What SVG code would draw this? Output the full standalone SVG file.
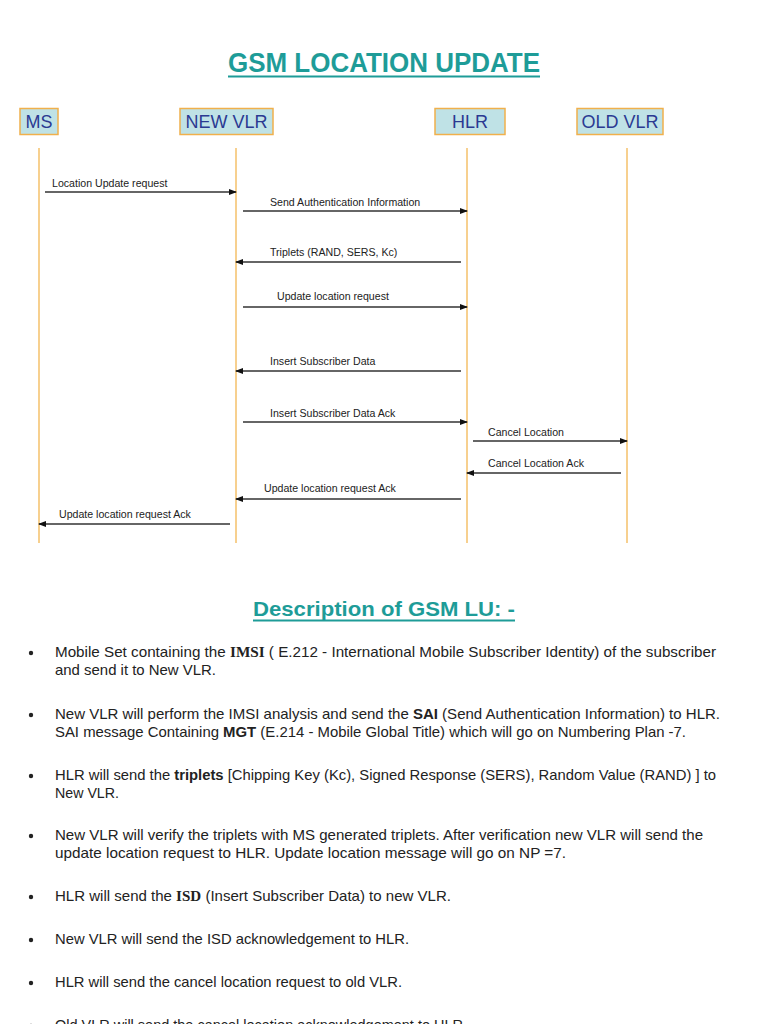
<svg xmlns="http://www.w3.org/2000/svg" width="768" height="1024" viewBox="0 0 768 1024">
<style>
.title{font-family:"Liberation Sans",Arial,sans-serif;font-weight:bold;fill:#1e9c98;}
.box{fill:#bfe2e6;stroke:#f0b04c;stroke-width:1.5;}
.ntext{font-family:"Liberation Sans",Arial,sans-serif;font-size:18px;fill:#2b3a92;text-anchor:middle;}
.life{stroke:#f5c06a;stroke-width:1.5;}
.msg{stroke:#333;stroke-width:1.3;fill:none;marker-end:url(#ah);}
.lbl{font-family:"Liberation Sans",Arial,sans-serif;font-size:10.6px;fill:#222;}
.body{font-family:"Liberation Sans",Arial,sans-serif;font-size:14.5px;fill:#222;}
.sb{font-family:"Liberation Serif","Times New Roman",serif;font-weight:bold;}
.b{font-weight:bold;}
.bul{fill:#222;}
</style>
<defs>
<marker id="ah" markerWidth="8" markerHeight="6" refX="7" refY="3" orient="auto" markerUnits="userSpaceOnUse">
<path d="M0,0 L8,3 L0,6 Z" fill="#111"/>
</marker>
</defs>
<rect width="768" height="1024" fill="#fff"/>
<text class="title" x="228" y="72" font-size="27" textLength="312" lengthAdjust="spacingAndGlyphs">GSM LOCATION UPDATE</text>
<line x1="228" y1="76.5" x2="540" y2="76.5" stroke="#1e9c98" stroke-width="2"/>

<g id="node-ms"><rect class="box" x="20" y="108.5" width="38" height="26"/><text class="ntext" x="39" y="128">MS</text></g>
<g id="node-newvlr"><rect class="box" x="180" y="108.5" width="93" height="26"/><text class="ntext" x="226.5" y="128">NEW VLR</text></g>
<g id="node-hlr"><rect class="box" x="435" y="108.5" width="70" height="26"/><text class="ntext" x="470" y="128">HLR</text></g>
<g id="node-oldvlr"><rect class="box" x="577" y="108.5" width="86" height="26"/><text class="ntext" x="620" y="128">OLD VLR</text></g>

<g id="lifelines">
<line class="life" x1="39" y1="148" x2="39" y2="543"/>
<line class="life" x1="236" y1="148" x2="236" y2="543"/>
<line class="life" x1="467" y1="148" x2="467" y2="543"/>
<line class="life" x1="627" y1="148" x2="627" y2="543"/>
</g>

<g id="connectors">
<line class="msg" x1="45" y1="192" x2="236" y2="192"/>
<line class="msg" x1="243" y1="211" x2="467" y2="211"/>
<line class="msg" x1="461" y1="262" x2="236" y2="262"/>
<line class="msg" x1="243" y1="307" x2="467" y2="307"/>
<line class="msg" x1="461" y1="371" x2="236" y2="371"/>
<line class="msg" x1="243" y1="422" x2="467" y2="422"/>
<line class="msg" x1="473" y1="441" x2="627" y2="441"/>
<line class="msg" x1="621" y1="473" x2="467" y2="473"/>
<line class="msg" x1="461" y1="499" x2="236" y2="499"/>
<line class="msg" x1="230" y1="524" x2="39" y2="524"/>
</g>
<g id="labels">
<text class="lbl" x="52" y="187">Location Update request</text>
<text class="lbl" x="270" y="206">Send Authentication Information</text>
<text class="lbl" x="270" y="256">Triplets (RAND, SERS, Kc)</text>
<text class="lbl" x="277" y="300">Update location request</text>
<text class="lbl" x="270" y="365">Insert Subscriber Data</text>
<text class="lbl" x="270" y="417">Insert Subscriber Data Ack</text>
<text class="lbl" x="488" y="436">Cancel Location</text>
<text class="lbl" x="488" y="467">Cancel Location Ack</text>
<text class="lbl" x="264" y="492">Update location request Ack</text>
<text class="lbl" x="59" y="518">Update location request Ack</text>
</g>

<text class="title" x="253" y="616" font-size="21" textLength="262" lengthAdjust="spacingAndGlyphs">Description of GSM LU: -</text>
<line x1="253" y1="620.5" x2="515" y2="620.5" stroke="#1e9c98" stroke-width="2"/>

<g id="description">
<circle class="bul" cx="31" cy="653" r="2.2"/>
<text class="body" x="55" y="657" textLength="661" lengthAdjust="spacingAndGlyphs">Mobile Set  containing the <tspan class="sb">IMSI</tspan> ( E.212 - International Mobile Subscriber Identity) of the subscriber</text>
<text class="body" x="55" y="675" textLength="161" lengthAdjust="spacingAndGlyphs">and send it to New VLR.</text>

<circle class="bul" cx="31" cy="715" r="2.2"/>
<text class="body" x="55" y="719" textLength="665" lengthAdjust="spacingAndGlyphs">New VLR will perform the IMSI analysis and send the <tspan class="b">SAI</tspan> (Send Authentication Information) to HLR.</text>
<text class="body" x="55" y="737" textLength="631" lengthAdjust="spacingAndGlyphs">SAI message Containing <tspan class="b">MGT</tspan> (E.214 - Mobile Global Title) which will go on Numbering Plan -7.</text>

<circle class="bul" cx="31" cy="776" r="2.2"/>
<text class="body" x="55" y="780" textLength="661" lengthAdjust="spacingAndGlyphs">HLR will send the <tspan class="b">triplets</tspan> [Chipping Key (Kc), Signed Response (SERS), Random Value (RAND) ] to</text>
<text class="body" x="55" y="798" textLength="64" lengthAdjust="spacingAndGlyphs">New VLR.</text>

<circle class="bul" cx="31" cy="836" r="2.2"/>
<text class="body" x="55" y="840" textLength="648" lengthAdjust="spacingAndGlyphs">New VLR will verify the triplets with MS generated triplets. After verification new VLR will send the</text>
<text class="body" x="55" y="858" textLength="511" lengthAdjust="spacingAndGlyphs">update location request to HLR. Update location message  will go on NP =7.</text>

<circle class="bul" cx="31" cy="897" r="2.2"/>
<text class="body" x="55" y="901" textLength="396" lengthAdjust="spacingAndGlyphs">HLR will send the <tspan class="sb">ISD</tspan> (Insert Subscriber Data) to new VLR.</text>

<circle class="bul" cx="31" cy="940" r="2.2"/>
<text class="body" x="55" y="944" textLength="354" lengthAdjust="spacingAndGlyphs">New VLR will send the ISD acknowledgement to HLR.</text>

<circle class="bul" cx="31" cy="983" r="2.2"/>
<text class="body" x="55" y="987" textLength="347" lengthAdjust="spacingAndGlyphs">HLR will send the cancel location request to old VLR.</text>

<circle class="bul" cx="31" cy="1026" r="2.2"/>
<text class="body" x="55" y="1030" textLength="412" lengthAdjust="spacingAndGlyphs">Old VLR will send the cancel location acknowledgement to HLR.</text>
</g>
</svg>
